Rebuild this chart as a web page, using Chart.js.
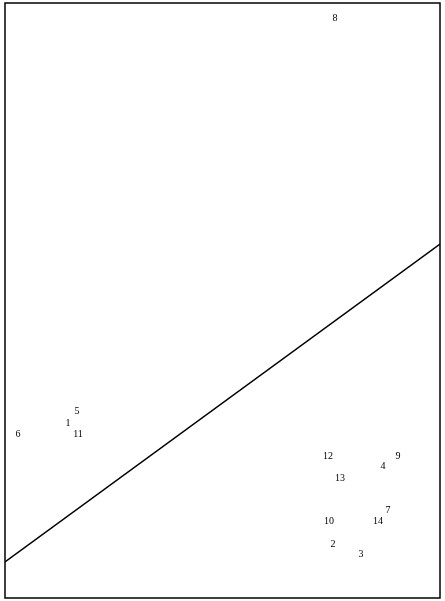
<!DOCTYPE html>
<html>
<head>
<meta charset="utf-8">
<script src="https://cdn.jsdelivr.net/npm/chart.js@4"></script>
<style>
  html, body { margin: 0; padding: 0; background: #fff; }
  #wrap { width: 445px; height: 601px; }
</style>
</head>
<body>
<div id="wrap"><canvas id="chart"></canvas></div>
<script>
const pointLabels = ["8", "5", "1", "6", "11", "12", "9", "4", "13", "7", "10", "14", "2", "3"]
const pointX = [330, 72, 63, 13, 73, 323, 393, 378, 335, 383, 324, 373, 328, 356]
const pointY = [580, 187, 175, 164, 164, 142, 142, 132, 120, 88, 77, 77, 54, 44]
const lineX = [0, 435]
const lineY = [36, 354]

const labelPlugin = {
  id: "labels",
  afterDatasetsDraw(chart) {
    const ctx = chart.ctx
    const meta = chart.getDatasetMeta(0)
    ctx.save()
    ctx.font = "10px 'Liberation Serif'"
    ctx.fillStyle = "#000"
    ctx.textAlign = "center"
    ctx.textBaseline = "middle"
    meta.data.forEach((pt, i) => ctx.fillText(pointLabels[i], pt.x, pt.y))
    const a = chart.chartArea
    ctx.strokeStyle = "#000"
    ctx.lineWidth = 1.5
    ctx.strokeRect(a.left, a.top, a.right - a.left, a.bottom - a.top)
    ctx.restore()
  }
}

new Chart(document.getElementById("chart"), {
  type: "scatter",
  data: {
    datasets: [
      {
        data: pointX.map((x, i) => ({ x: x, y: pointY[i] })),
        pointRadius: 0
      },
      {
        type: "line",
        data: lineX.map((x, i) => ({ x: x, y: lineY[i] })),
        borderColor: "#000",
        borderWidth: 1.5,
        pointRadius: 0,
        fill: false
      }
    ]
  },
  plugins: [labelPlugin],
  options: {
    responsive: true,
    maintainAspectRatio: false,
    animation: false,
    layout: { padding: { left: 5, top: 3, right: 5, bottom: 3 } },
    plugins: { legend: { display: false }, tooltip: { enabled: false } },
    scales: {
      x: { type: "linear", min: 0, max: 435, display: false },
      y: { type: "linear", min: 0, max: 595, display: false }
    }
  }
});
</script>
</body>
</html>
